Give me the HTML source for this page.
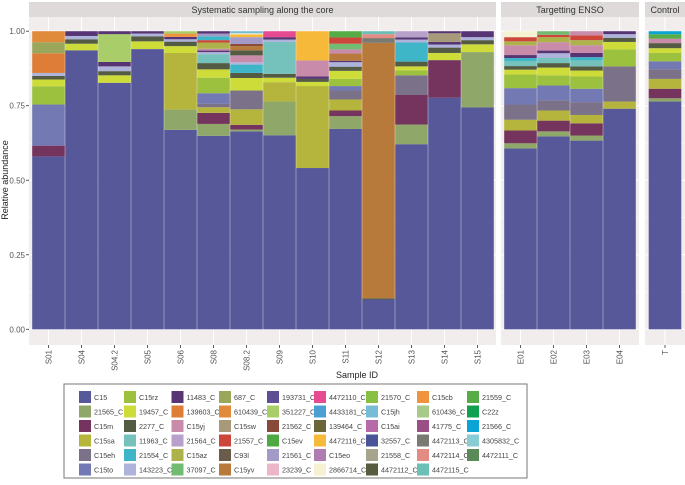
<!DOCTYPE html>
<html><head><meta charset="utf-8"><style>
body{margin:0;background:#fff;font-family:"Liberation Sans",sans-serif}
svg text{font-family:"Liberation Sans",sans-serif}
</style></head><body>
<svg id="chart" width="685" height="480" viewBox="0 0 685 480" xmlns="http://www.w3.org/2000/svg"></svg>
<script>
const palette={"C15":"#56589a","21565_C":"#8fa86a","C15m":"#74345e","C15sa":"#b5b43c","C15eh":"#7b7189","C15to":"#7279b3",
"C15rz":"#9cc13f","19457_C":"#cedc3a","2277_C":"#545b43","11963_C":"#74c2bb","21554_C":"#3fb5c8","143223_C":"#aeb3dc",
"11483_C":"#573574","139603_C":"#de7d38","C15yj":"#c88ba9","21564_C":"#b7a0c9","C15az":"#adb24a","37097_C":"#72bb72",
"687_C":"#9aa65a","610439_C":"#e08a3c","C15sw":"#a69a7a","21557_C":"#cd463b","C93I":"#6b5b4b","C15yv":"#b87a3b",
"193731_C":"#5e4f94","351227_C":"#a9cd68","21562_C":"#8a4a3a","C15ev":"#4fa943","21561_C":"#a39ac8","23239_C":"#ecb6c8",
"4472110_C":"#e64b92","4433181_C":"#4b9fd4","139464_C":"#6a6538","4472116_C":"#f6b93a","C15eo":"#b07caf","2866714_C":"#f5f2d2",
"21570_C":"#87c043","C15jh":"#77bcd6","C15ai":"#b76aa8","32557_C":"#4a5597","21558_C":"#a6a48a","4472112_C":"#575c3e",
"C15cb":"#ef943c","610436_C":"#a7c98a","41775_C":"#9a5085","4472113_C":"#7a7a72","4472114_C":"#e28c84","4472115_C":"#6ac0b4",
"21559_C":"#56ad47","C22z":"#10a050","21566_C":"#0aa4d4","4305832_C":"#88ccd4","4472111_C":"#5a8a5a"};
const legendOrder=["C15","21565_C","C15m","C15sa","C15eh","C15to","C15rz","19457_C","2277_C","11963_C","21554_C","143223_C",
"11483_C","139603_C","C15yj","21564_C","C15az","37097_C","687_C","610439_C","C15sw","21557_C","C93I","C15yv",
"193731_C","351227_C","21562_C","C15ev","21561_C","23239_C","4472110_C","4433181_C","139464_C","4472116_C","C15eo","2866714_C",
"21570_C","C15jh","C15ai","32557_C","21558_C","4472112_C","C15cb","610436_C","41775_C","4472113_C","4472114_C","4472115_C",
"21559_C","C22z","21566_C","4305832_C","4472111_C"];
const panel1Samples=["S01","S04","S04.2","S05","S06","S08","S08.2","S09","S10","S11","S12","S13","S14","S15"];
const panel2Samples=["E01","E02","E03","E04"];
const panel3Samples=["T"];
const yTicks=[0,0.25,0.5,0.75,1];
const yTickLabels=["0.00","0.25","0.50","0.75","1.00"];
const taxa={
"S01":["C15","C15m","C15to","C15rz","19457_C","2277_C","143223_C","139603_C","687_C","610439_C"],
"S04":["C15","19457_C","2277_C","143223_C","11483_C"],
"S04.2":["C15","19457_C","2277_C","143223_C","11483_C","351227_C","11483_C"],
"S05":["C15","19457_C","2277_C","143223_C","11483_C"],
"S06":["C15","21565_C","C15sa","19457_C","2277_C","143223_C","11483_C","C15cb","351227_C"],
"S08":["C15","21565_C","C15m","C15sa","C15eh","C15to","C15rz","19457_C","2277_C","11963_C","143223_C","11483_C","C15yj","C15az","21557_C","21554_C","21561_C","11483_C"],
"S08.2":["C15","21565_C","C15m","C15sa","C15eh","19457_C","2277_C","21554_C","143223_C","C15yj","2277_C","C15yv","21562_C","21561_C","4472116_C","2866714_C","C15jh"],
"S09":["C15","21565_C","C15sa","19457_C","2277_C","11963_C","143223_C","11483_C","4472110_C"],
"S10":["C15","C15sa","19457_C","2277_C","11483_C","C15yj","4472116_C"],
"S11":["C15","21565_C","C15m","C15sa","C15eh","C15to","C15rz","19457_C","2277_C","143223_C","11483_C","C15yv","C15yj","37097_C","21557_C","21559_C"],
"S12":["C15","2277_C","C15yv","4472113_C","4472114_C","4472115_C"],
"S13":["C15","21565_C","C15m","C15eh","C15rz","19457_C","2277_C","21554_C","143223_C","11483_C","21564_C"],
"S14":["C15","C15m","19457_C","2277_C","143223_C","11483_C","C15sw","11483_C"],
"S15":["C15","21565_C","19457_C","2277_C","143223_C","11483_C"],
"E01":["C15","21565_C","C15m","C15sa","C15eh","C15to","C15rz","19457_C","2277_C","11963_C","21554_C","11483_C","C15yj","C15az","21557_C","2866714_C"],
"E02":["C15","21565_C","C15m","C15sa","C15eh","C15to","C15rz","19457_C","2277_C","11963_C","143223_C","11483_C","C15yj","C15az","21557_C","37097_C"],
"E03":["C15","21565_C","C15m","C15sa","C15eh","C15to","C15rz","19457_C","2277_C","11963_C","21554_C","11483_C","C15yj","C15az","21557_C","C15yj"],
"E04":["C15","C15sa","C15eh","C15rz","19457_C","2277_C","143223_C","11483_C"],
"T":["C15","21565_C","C15m","C15sa","C15eh","C15to","C15rz","19457_C","2277_C","C15yj","21559_C","21566_C"]
};
const tops={
"S01":[0.58,0.616,0.754,0.815,0.838,0.85,0.86,0.926,0.963,1],
"S04":[0.936,0.958,0.973,0.984,1],
"S04.2":[0.827,0.852,0.866,0.882,0.897,0.99,1],
"S05":[0.94,0.966,0.983,0.992,1],
"S06":[0.669,0.737,0.927,0.95,0.965,0.973,0.981,0.992,1],
"S08":[0.649,0.689,0.726,0.745,0.757,0.792,0.844,0.872,0.893,0.923,0.93,0.935,0.941,0.962,0.97,0.983,0.992,1],
"S08.2":[0.664,0.67,0.686,0.738,0.801,0.843,0.86,0.888,0.896,0.919,0.936,0.95,0.957,0.98,0.989,0.993,1],
"S09":[0.651,0.764,0.829,0.844,0.857,0.964,0.972,0.98,1],
"S10":[0.541,0.816,0.83,0.84,0.848,0.902,1],
"S11":[0.672,0.715,0.734,0.771,0.801,0.816,0.84,0.867,0.881,0.896,0.901,0.925,0.939,0.958,0.979,1],
"S12":[0.1,0.104,0.961,0.977,0.99,1],
"S13":[0.621,0.687,0.786,0.852,0.869,0.882,0.898,0.962,0.972,0.979,1],
"S14":[0.777,0.903,0.927,0.945,0.955,0.964,0.993,1],
"S15":[0.744,0.93,0.956,0.97,0.98,1],
"E01":[0.607,0.624,0.667,0.703,0.754,0.809,0.855,0.871,0.883,0.9,0.91,0.92,0.953,0.966,0.98,1],
"E02":[0.647,0.664,0.7,0.734,0.768,0.818,0.852,0.878,0.893,0.91,0.926,0.935,0.963,0.98,0.988,1],
"E03":[0.633,0.65,0.691,0.719,0.762,0.807,0.848,0.868,0.882,0.902,0.913,0.927,0.953,0.97,0.986,1],
"E04":[0.74,0.764,0.882,0.939,0.964,0.978,0.99,1],
"T":[0.764,0.775,0.807,0.84,0.872,0.899,0.927,0.943,0.96,0.975,0.99,1]
};
const NS="http://www.w3.org/2000/svg";
const svg=document.getElementById('chart');
function mk(tag,attrs,parent){const e=document.createElementNS(NS,tag);for(const k in attrs)e.setAttribute(k,attrs[k]);(parent||svg).appendChild(e);return e;}
const y0=329.3,y1=31.2;
function yScale(v){return y0-(y0-y1)*v;}
const panels=[
 {x:29,w:467,title:"Systematic sampling along the core",samples:panel1Samples,first:48.5,name:"panel-systematic"},
 {x:501,w:138,title:"Targetting ENSO",samples:panel2Samples,first:520.5,name:"panel-enso"},
 {x:645,w:40,title:"Control",samples:panel3Samples,first:665,name:"panel-control"}];
const step=33,bw=32.6;
panels.forEach(p=>{
 const g=mk('g',{});
 
 
 const bg=mk('rect',{x:p.x,y:17,width:p.w,height:328,fill:'#f1eded'},g);
 
 
 const st=mk('rect',{x:p.x,y:2,width:p.w,height:15,fill:'#dedada'},g);
 
 
 const tt=mk('text',{x:p.x+p.w/2,y:13,'text-anchor':'middle','font-size':'9',fill:'#333'},g);
 tt.textContent=p.title;
 
 
 yTicks.forEach((t,i)=>{
  mk('line',{x1:p.x,x2:p.x+p.w,y1:yScale(t),y2:yScale(t),stroke:'#fff','stroke-width':1},g);
  if(i<yTicks.length-1) mk('line',{x1:p.x,x2:p.x+p.w,y1:yScale((t+yTicks[i+1])/2),y2:yScale((t+yTicks[i+1])/2),stroke:'#fff','stroke-width':0.5},g);
 });
 p.samples.forEach((s,i)=>{
  const cx=p.first+i*step;
  mk('line',{x1:cx,x2:cx,y1:17,y2:345,stroke:'#fff','stroke-width':1},g);
  mk('line',{x1:cx,x2:cx,y1:345,y2:348,stroke:'#333','stroke-width':0.8},g);
  const bar=mk('g',{},g);
  
  
  let prev=0;
  taxa[s].forEach((tx,j)=>{
   const top=tops[s][j];
   const r=mk('rect',{x:cx-bw/2,y:yScale(top),width:bw,height:Math.max(0,yScale(prev)-yScale(top)),fill:palette[tx]},bar);
   
   
   prev=top;
  });
  const lb=mk('text',{x:0,y:0,'text-anchor':'end','font-size':'8',fill:'#555',transform:`translate(${cx+3},350) rotate(-90)`},g);
  lb.textContent=s;
  
  
 });
});
yTicks.forEach((t,i)=>{
 mk('line',{x1:26,x2:29,y1:yScale(t),y2:yScale(t),stroke:'#333','stroke-width':0.8});
 const l=mk('text',{x:25,y:yScale(t)+3,'text-anchor':'end','font-size':'8',fill:'#555'});
 l.textContent=yTickLabels[i];
 
 
});
const yt=mk('text',{x:0,y:0,'text-anchor':'middle','font-size':'9',fill:'#222',transform:'translate(8,180) rotate(-90)'});
yt.textContent='Relative abundance';


const xt=mk('text',{x:357,y:378,'text-anchor':'middle','font-size':'9',fill:'#222'});
xt.textContent='Sample ID';


const lg=mk('g',{});


mk('rect',{x:64,y:384,width:463,height:94,fill:'#fff',stroke:'#777','stroke-width':1},lg);
const colX=[79,124,171.5,219,267,314,366,417,467];
legendOrder.forEach((tx,i)=>{
 const c=Math.floor(i/6),r=i%6;
 const x=colX[c],y=391+r*14.5;
 const e=mk('g',{},lg);
 
 
 mk('rect',{x:x,y:y,width:12,height:12,fill:palette[tx]},e);
 const t=mk('text',{x:x+15,y:y+9,'font-size':'7.2',fill:'#444'},e);
 t.textContent=tx;
});
</script>
</body></html>
